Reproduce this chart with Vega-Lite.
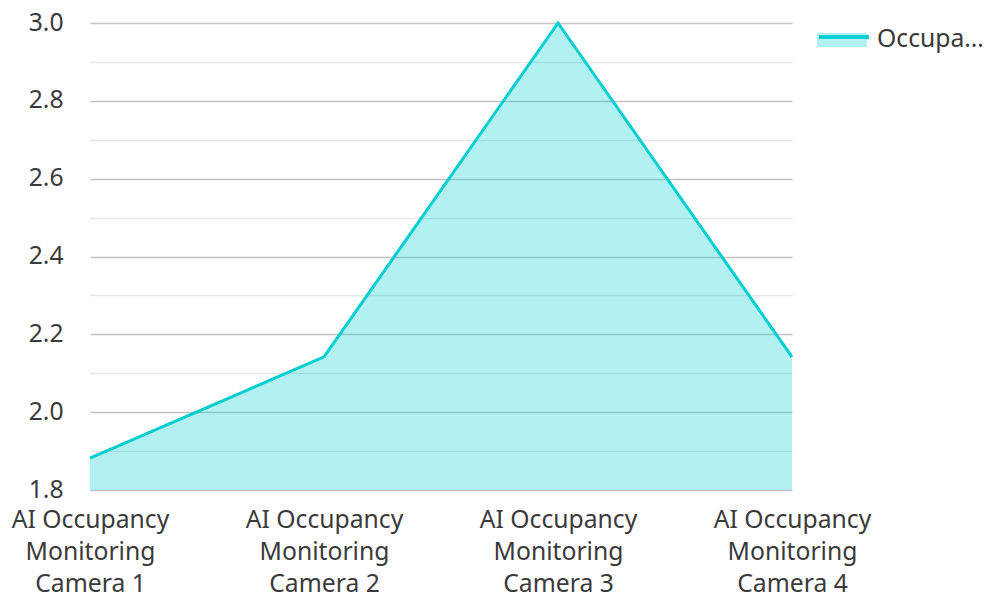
{
  "$schema": "https://vega.github.io/schema/vega-lite/v6.json",
  "width": 702,
  "height": 467,
  "autosize": {"type": "none"},
  "padding": {"left": 90, "top": 23, "right": 194, "bottom": 104},
  "background": "white",
  "config": {
    "font": "Noto Sans",
    "view": {"stroke": null}
  },
  "data": {
    "values": [
      {"camera": "AI Occupancy Monitoring Camera 1", "value": 1.882, "series": "Occupancy", "lineSeries": "Occupancy"},
      {"camera": "AI Occupancy Monitoring Camera 2", "value": 2.142, "series": "Occupancy", "lineSeries": "Occupancy"},
      {"camera": "AI Occupancy Monitoring Camera 3", "value": 3.0, "series": "Occupancy", "lineSeries": "Occupancy"},
      {"camera": "AI Occupancy Monitoring Camera 4", "value": 2.142, "series": "Occupancy", "lineSeries": "Occupancy"}
    ]
  },
  "encoding": {
    "x": {
      "field": "camera",
      "type": "nominal",
      "sort": null,
      "scale": {"type": "point", "padding": 0},
      "axis": {
        "title": null,
        "labelAngle": 0,
        "labelExpr": "[slice(datum.label,0,12), slice(datum.label,13,23), slice(datum.label,24)]",
        "labelFontSize": 24.7,
        "labelColor": "#3a3a3a",
        "labelLineHeight": 32.3,
        "labelPadding": 17,
        "ticks": false,
        "domain": false,
        "grid": false,
        "labelLimit": 300,
        "labelOverlap": false,
        "labelBound": false
      }
    },
    "y": {
      "field": "value",
      "type": "quantitative",
      "scale": {"domain": [1.8, 3.0], "nice": false, "zero": false},
      "axis": {
        "title": null,
        "values": [1.8, 1.9, 2.0, 2.1, 2.2, 2.3, 2.4, 2.5, 2.6, 2.7, 2.8, 2.9, 3.0],
        "labelExpr": "round(datum.value*10) % 2 == 0 ? format(datum.value, '.1f') : ''",
        "labelFontSize": 24.7,
        "labelColor": "#3a3a3a",
        "labelPadding": 27,
        "labelOverlap": false,
        "ticks": false,
        "domain": false,
        "grid": true,
        "gridColor": {"condition": {"test": "round(datum.value*10) % 2 == 0", "value": "#c4c4c4"}, "value": "#e6e6e6"},
        "gridWidth": 1.5
      }
    }
  },
  "layer": [
    {
      "mark": {"type": "area", "opacity": 0.3},
      "encoding": {
        "y2": {"datum": 1.8},
        "color": {
          "field": "series",
          "type": "nominal",
          "scale": {"range": ["#00CED1"]},
          "legend": {
            "title": null,
            "orient": "none",
            "legendX": 727,
            "legendY": -8,
            "padding": 0,
            "labelFontSize": 24.7,
            "labelColor": "#3a3a3a",
            "labelLimit": 110,
            "symbolType": "M-1,-0.28H1V0.28H-1Z",
            "symbolSize": 2500,
            "symbolOpacity": 0.3,
            "symbolStrokeWidth": 0,
            "labelOffset": 10
          }
        }
      }
    },
    {
      "mark": {"type": "line", "strokeWidth": 3},
      "encoding": {
        "stroke": {
          "field": "lineSeries",
          "type": "nominal",
          "scale": {"range": ["#00CED1"]},
          "legend": {
            "title": null,
            "orient": "none",
            "legendX": 727,
            "legendY": -8,
            "padding": 0,
            "labelExpr": "''",
            "labelFontSize": 24.7,
            "symbolType": "M-1,-0.2H1",
            "symbolSize": 2500,
            "symbolStrokeWidth": 4,
            "symbolFillColor": "transparent",
            "labelOffset": 10
          }
        }
      }
    }
  ]
}
